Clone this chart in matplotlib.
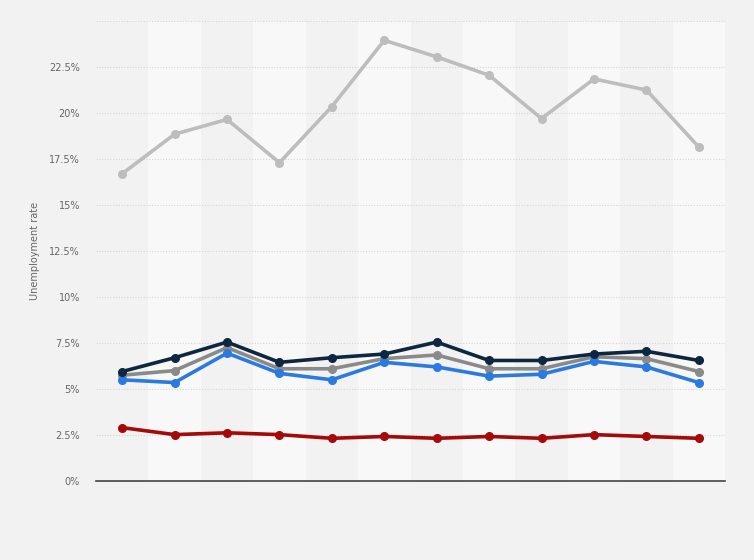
import numpy as np
import matplotlib.pyplot as plt
from matplotlib.ticker import FuncFormatter

# unemployment rates (%), 12 periods
light_gray = [16.7, 18.85, 19.65, 17.3, 20.35, 23.95, 23.05, 22.05, 19.7, 21.85, 21.25, 18.15]
gray = [5.75, 6.0, 7.25, 6.1, 6.1, 6.65, 6.85, 6.1, 6.1, 6.75, 6.65, 5.95]
blue = [5.5, 5.35, 6.95, 5.85, 5.5, 6.45, 6.2, 5.7, 5.8, 6.5, 6.2, 5.35]
navy = [5.95, 6.7, 7.55, 6.45, 6.7, 6.9, 7.55, 6.55, 6.55, 6.9, 7.05, 6.55]
red = [2.9, 2.52, 2.62, 2.52, 2.32, 2.42, 2.32, 2.42, 2.32, 2.52, 2.42, 2.32]

y_ticks = [0, 2.5, 5, 7.5, 10, 12.5, 15, 17.5, 20, 22.5]

bg = '#f2f2f2'
fig = plt.figure(figsize=(7.54, 5.6), dpi=100, facecolor=bg)
ax = fig.add_axes([96 / 754, 79 / 560, 629 / 754, 460 / 560])
ax.set_facecolor(bg)

x = np.arange(len(navy))
ax.set_xlim(-0.5, len(x) - 0.5)
ax.set_ylim(0, 25)

# alternating column bands
for i in x:
    if i % 2 == 1:
        ax.axvspan(i - 0.5, i + 0.5, color='#f8f8f8', zorder=0, lw=0)

# dotted gridlines, including the unlabeled top one at 25%
for v in y_ticks[1:] + [25]:
    ax.axhline(v, color='#d6d6d6', lw=0.8, ls=(0, (1, 1.5)), zorder=1)

series = [
    (light_gray, '#bdbdbd'),
    (gray, '#8a8a8a'),
    (blue, '#2b7ae0'),
    (navy, '#0e2740'),
    (red, '#a50a0a'),
]
for vals, c in series:
    ax.plot(x, vals, color=c, lw=2.6, marker='o', ms=5.5, zorder=3,
            solid_joinstyle='round')

ax.set_yticks(y_ticks)
ax.yaxis.set_major_formatter(FuncFormatter(lambda v, p: '{:g}%'.format(v)))
ax.tick_params(axis='y', length=0, pad=11.5, labelsize=7, labelcolor='#666666')
ax.set_xticks([])

for s in ['top', 'right', 'left']:
    ax.spines[s].set_visible(False)
ax.spines['bottom'].set_color('#444444')
ax.spines['bottom'].set_linewidth(1.2)

ax.set_ylabel('Unemployment rate', fontsize=7, color='#666666')
ax.yaxis.set_label_coords(-0.089, 0.5)

plt.savefig('out.png', dpi=100, facecolor=bg)
